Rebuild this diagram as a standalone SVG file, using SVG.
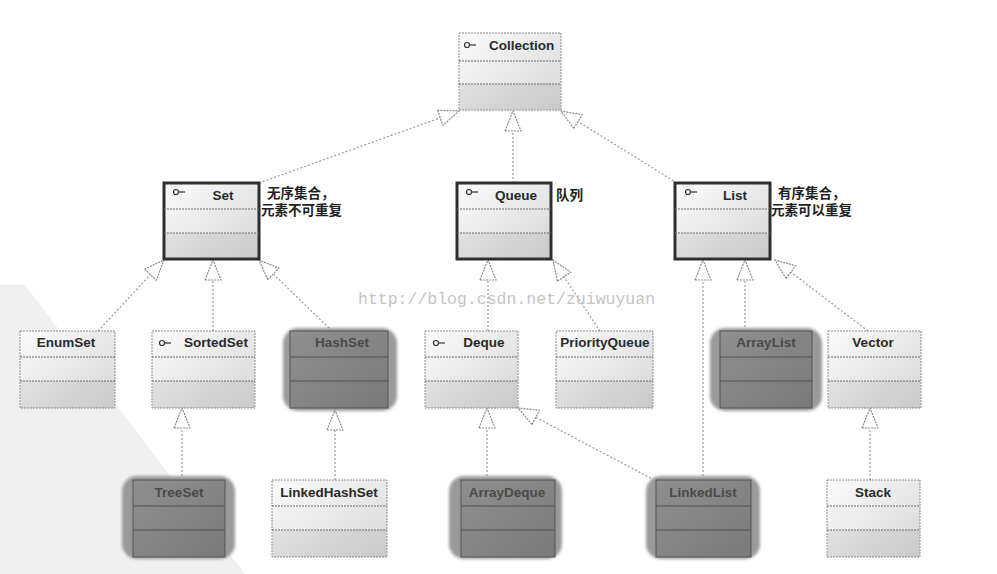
<svg xmlns="http://www.w3.org/2000/svg" width="997" height="574" viewBox="0 0 997 574">
<defs>
<linearGradient id="lg" x1="0" y1="0" x2="1" y2="1">
<stop offset="0" stop-color="#fbfbfb"/><stop offset="1" stop-color="#d6d6d6"/>
</linearGradient>
<linearGradient id="dg" x1="0" y1="0" x2="1" y2="1">
<stop offset="0" stop-color="#8f8f8f"/><stop offset="1" stop-color="#7a7a7a"/>
</linearGradient>
<filter id="bl" x="-10%" y="-10%" width="120%" height="120%"><feGaussianBlur stdDeviation="1.5"/></filter>
<marker id="tri" markerUnits="userSpaceOnUse" markerWidth="22" markerHeight="18" refX="20" refY="8" orient="auto" viewBox="-1 -1 22 18">
<path d="M0,0 L20,8 L0,16 Z" fill="#fff" stroke="#8a8a8a" stroke-width="1.2" stroke-dasharray="2,1"/>
</marker>
<style>
.lt{fill:url(#lg);stroke:#8c8c8c;stroke-width:1;stroke-dasharray:2,1}
.lb{fill:#000;fill-opacity:0.06}
.if{fill:url(#lg);stroke:#2e2e2e;stroke-width:3}
.dk{fill:url(#dg);stroke:#555;stroke-width:1}
.sh{fill:#9a9a9a;filter:url(#bl)}
.dv{stroke:#6a6a6a;stroke-width:1;stroke-dasharray:2,1}
.dvd{stroke:#505050;stroke-width:1}
.t{font-family:"Liberation Sans",Arial,sans-serif;font-weight:bold;font-size:13.5px;fill:#2a2a2a}
.tc{text-anchor:middle}
.td{fill:#4a4a4a}
.cn{font-family:"Liberation Sans","Noto Sans CJK SC",sans-serif;font-weight:bold;font-size:13.5px;fill:#222}
.ic{fill:none;stroke:#333;stroke-width:1.2}
.cl{fill:none;stroke:#9a9a9a;stroke-width:1.2;stroke-dasharray:2,2;marker-end:url(#tri)}
.wm{font-family:"Liberation Mono",monospace;font-size:16.5px;fill:#c4c4c4}
</style>
</defs>
<rect width="997" height="574" fill="#fff"/>
<polygon points="0,285 25,285 245,574 0,574" fill="#f0f0f0"/>

<g id="connectors">
<line class="cl" x1="259" y1="183" x2="459" y2="111"/>
<line class="cl" x1="513" y1="183" x2="513" y2="111"/>
<line class="cl" x1="677" y1="183" x2="561" y2="111"/>
<line class="cl" x1="98" y1="331" x2="164" y2="260"/>
<line class="cl" x1="213" y1="331" x2="213" y2="260"/>
<line class="cl" x1="332" y1="331" x2="259" y2="260"/>
<line class="cl" x1="488" y1="331" x2="488" y2="260"/>
<line class="cl" x1="600" y1="331" x2="553" y2="260"/>
<line class="cl" x1="703" y1="480" x2="703" y2="260"/>
<line class="cl" x1="745" y1="331" x2="745" y2="260"/>
<line class="cl" x1="868" y1="331" x2="775" y2="260"/>
<line class="cl" x1="182" y1="480" x2="182" y2="408"/>
<line class="cl" x1="335" y1="480" x2="335" y2="410"/>
<line class="cl" x1="487" y1="480" x2="487" y2="408"/>
<line class="cl" x1="658" y1="482" x2="518" y2="408"/>
<line class="cl" x1="870" y1="480" x2="870" y2="408"/>
</g>

<g id="Collection">
<rect class="lt" x="459" y="33" width="102" height="77"/>
<rect class="lb" x="460" y="84" width="100" height="26"/>
<line class="dv" x1="459" y1="61" x2="561" y2="61"/><line class="dv" x1="459" y1="84" x2="561" y2="84"/>
<circle class="ic" cx="467" cy="45" r="2.5"/><line class="ic" x1="469.5" y1="45" x2="476" y2="45"/>
<text class="t" x="489" y="50">Collection</text>
</g>

<g id="Set">
<rect class="if" x="164" y="183" width="95" height="76"/>
<rect class="lb" x="166" y="233" width="91" height="24"/>
<line class="dv" x1="164" y1="209" x2="259" y2="209"/><line class="dv" x1="164" y1="233" x2="259" y2="233"/>
<circle class="ic" cx="176" cy="192" r="2.5"/><line class="ic" x1="178.5" y1="192" x2="185" y2="192"/>
<text class="t tc" x="223" y="200">Set</text>
<text class="cn" x="267" y="198">无序集合，</text>
<text class="cn" x="261" y="215">元素不可重复</text>
</g>

<g id="Queue">
<rect class="if" x="457" y="183" width="94" height="76"/>
<rect class="lb" x="459" y="233" width="90" height="24"/>
<line class="dv" x1="457" y1="209" x2="551" y2="209"/><line class="dv" x1="457" y1="233" x2="551" y2="233"/>
<circle class="ic" cx="469" cy="192" r="2.5"/><line class="ic" x1="471.5" y1="192" x2="478" y2="192"/>
<text class="t tc" x="516" y="200">Queue</text>
<text class="cn" x="556" y="200">队列</text>
</g>

<g id="List">
<rect class="if" x="675" y="183" width="95" height="76"/>
<rect class="lb" x="677" y="233" width="91" height="24"/>
<line class="dv" x1="675" y1="209" x2="770" y2="209"/><line class="dv" x1="675" y1="233" x2="770" y2="233"/>
<circle class="ic" cx="688" cy="192" r="2.5"/><line class="ic" x1="690.5" y1="192" x2="697" y2="192"/>
<text class="t tc" x="735" y="200">List</text>
<text class="cn" x="778" y="198">有序集合，</text>
<text class="cn" x="771" y="215">元素可以重复</text>
</g>

<g id="EnumSet">
<rect class="lt" x="20" y="331" width="95" height="77"/>
<rect class="lb" x="21" y="381" width="93" height="27"/>
<line class="dv" x1="20" y1="357" x2="115" y2="357"/><line class="dv" x1="20" y1="381" x2="115" y2="381"/>
<text class="t tc" x="66" y="347">EnumSet</text>
</g>

<g id="SortedSet">
<rect class="lt" x="152" y="331" width="103" height="77"/>
<rect class="lb" x="153" y="381" width="101" height="27"/>
<line class="dv" x1="152" y1="357" x2="255" y2="357"/><line class="dv" x1="152" y1="381" x2="255" y2="381"/>
<circle class="ic" cx="162" cy="343" r="2.5"/><line class="ic" x1="164.5" y1="343" x2="171" y2="343"/>
<text class="t tc" x="216" y="347">SortedSet</text>
</g>

<g id="HashSet">
<rect class="sh" x="283" y="328" width="114" height="83" rx="15"/>
<rect class="dk" x="290" y="331" width="98" height="77"/>
<line class="dvd" x1="290" y1="357" x2="388" y2="357"/><line class="dvd" x1="290" y1="381" x2="388" y2="381"/>
<text class="t tc td" x="342" y="347">HashSet</text>
</g>

<g id="Deque">
<rect class="lt" x="425" y="331" width="93" height="77"/>
<rect class="lb" x="426" y="381" width="91" height="27"/>
<line class="dv" x1="425" y1="357" x2="518" y2="357"/><line class="dv" x1="425" y1="381" x2="518" y2="381"/>
<circle class="ic" cx="436" cy="343" r="2.5"/><line class="ic" x1="438.5" y1="343" x2="445" y2="343"/>
<text class="t tc" x="484" y="347">Deque</text>
</g>

<g id="PriorityQueue">
<rect class="lt" x="556" y="331" width="97" height="77"/>
<rect class="lb" x="557" y="381" width="95" height="27"/>
<line class="dv" x1="556" y1="357" x2="653" y2="357"/><line class="dv" x1="556" y1="381" x2="653" y2="381"/>
<text class="t tc" x="605" y="347">PriorityQueue</text>
</g>

<g id="ArrayList">
<rect class="sh" x="710" y="328" width="112" height="83" rx="15"/>
<rect class="dk" x="720" y="331" width="92" height="77"/>
<line class="dvd" x1="720" y1="357" x2="812" y2="357"/><line class="dvd" x1="720" y1="381" x2="812" y2="381"/>
<text class="t tc td" x="766" y="347">ArrayList</text>
</g>

<g id="Vector">
<rect class="lt" x="828" y="331" width="93" height="77"/>
<rect class="lb" x="829" y="381" width="91" height="27"/>
<line class="dv" x1="828" y1="357" x2="921" y2="357"/><line class="dv" x1="828" y1="381" x2="921" y2="381"/>
<text class="t tc" x="873" y="347">Vector</text>
</g>

<g id="TreeSet">
<rect class="sh" x="122" y="476" width="113" height="83" rx="15"/>
<rect class="dk" x="133" y="480" width="92" height="77"/>
<line class="dvd" x1="133" y1="506" x2="225" y2="506"/><line class="dvd" x1="133" y1="530" x2="225" y2="530"/>
<text class="t tc td" x="179" y="497">TreeSet</text>
</g>

<g id="LinkedHashSet">
<rect class="lt" x="272" y="480" width="115" height="77"/>
<rect class="lb" x="273" y="530" width="113" height="27"/>
<line class="dv" x1="272" y1="506" x2="387" y2="506"/><line class="dv" x1="272" y1="530" x2="387" y2="530"/>
<text class="t tc" x="329" y="497">LinkedHashSet</text>
</g>

<g id="ArrayDeque">
<rect class="sh" x="449" y="476" width="113" height="83" rx="15"/>
<rect class="dk" x="461" y="480" width="94" height="77"/>
<line class="dvd" x1="461" y1="506" x2="555" y2="506"/><line class="dvd" x1="461" y1="530" x2="555" y2="530"/>
<text class="t tc td" x="507" y="497">ArrayDeque</text>
</g>

<g id="LinkedList">
<rect class="sh" x="646" y="476" width="114" height="83" rx="15"/>
<rect class="dk" x="656" y="480" width="95" height="77"/>
<line class="dvd" x1="656" y1="506" x2="751" y2="506"/><line class="dvd" x1="656" y1="530" x2="751" y2="530"/>
<text class="t tc td" x="703" y="497">LinkedList</text>
</g>

<g id="Stack">
<rect class="lt" x="827" y="480" width="93" height="77"/>
<rect class="lb" x="828" y="530" width="91" height="27"/>
<line class="dv" x1="827" y1="506" x2="920" y2="506"/><line class="dv" x1="827" y1="530" x2="920" y2="530"/>
<text class="t tc" x="873" y="497">Stack</text>
</g>

<text class="wm" x="358" y="304">http://blog.csdn.net/zuiwuyuan</text>
</svg>
